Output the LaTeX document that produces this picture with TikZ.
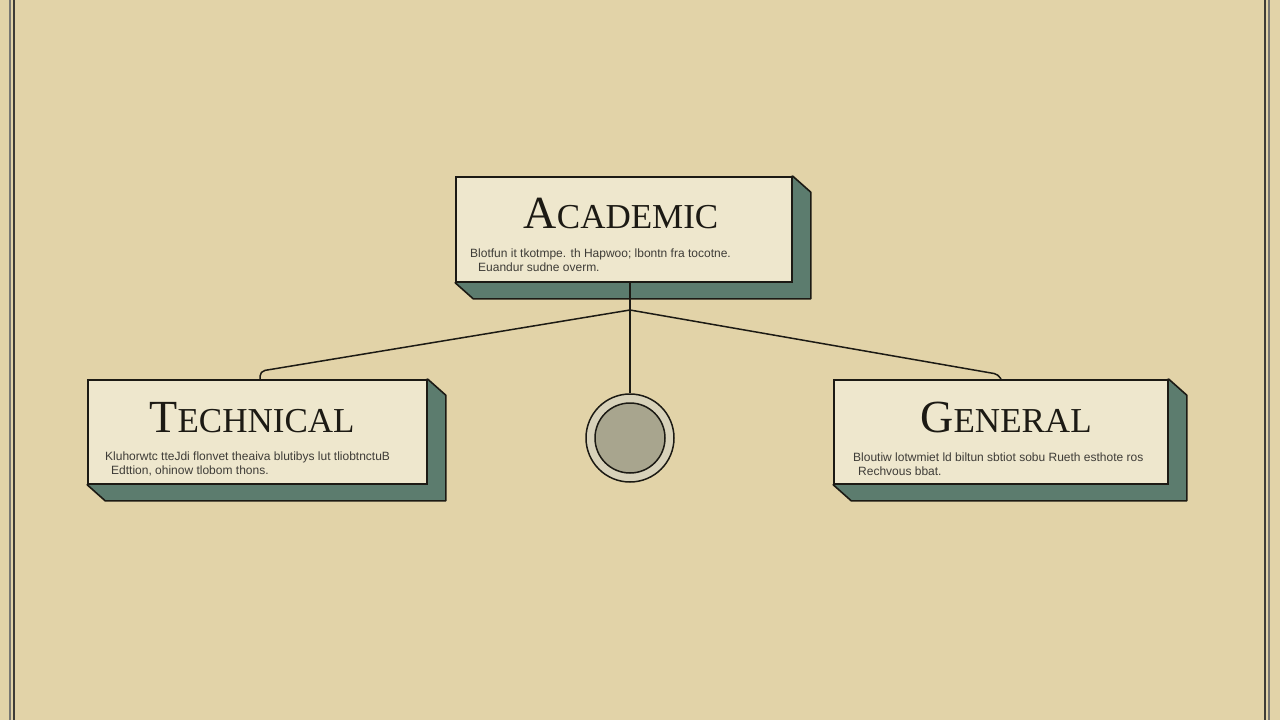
\documentclass[tikz,border=0pt]{standalone}
\usepackage{fontspec}
\usetikzlibrary{backgrounds}
\newfontfamily\titlefont{Liberation Serif}
\newfontfamily\bodyfont{Liberation Sans}
\definecolor{paper}{RGB}{226,211,168}
\definecolor{face}{RGB}{238,231,205}
\definecolor{side}{RGB}{92,124,110}
\definecolor{ink}{RGB}{28,26,20}
\definecolor{rim}{RGB}{216,210,186}
\definecolor{core}{RGB}{168,165,142}
\newcommand\smc[2]{{\fontsize{46}{46}\selectfont #1}{\fontsize{35}{35}\selectfont #2}}

\tikzset{
  panel/.style={draw=ink, line width=1.6pt, fill=face, inner sep=0pt},
  wire/.style={draw=ink, line width=1.5pt},
  heading/.style={font=\titlefont, text=ink, anchor=base, inner sep=0pt},
  blurb/.style={font=\bodyfont\fontsize{12}{14}\selectfont, text=ink!85,
    anchor=north west, inner sep=0pt, align=left},
}

\begin{document}
\begin{tikzpicture}[x=1pt, y=-1pt]
\useasboundingbox (0,0) rectangle (1280,720);

    \node[panel, minimum width=336pt, minimum height=105pt] (acad) at (624,229.5){};
    \node[panel, minimum width=339pt, minimum height=104pt] (tech) at (257.5,432){};
    \node[panel, minimum width=334pt, minimum height=104pt] (gen) at (1001,432){};
    \node[draw=ink, line width=1.5pt, fill=rim, circle, minimum size=88pt] (hub) at (630,438){};
    \node[draw=ink, line width=1.5pt, fill=core, circle, minimum size=70pt] (hubin) at (hub){};

    \node[heading] (acad-t) at (621,228){\smc{A}{CADEMIC}};
    \node[heading] (tech-t) at (252,432){\smc{T}{ECHNICAL}};
    \node[heading] (gen-t) at (1006,432){\smc{G}{ENERAL}};

    \node[blurb] (acad-b) at (470,249){Blotfun it tkotmpe. th Hapwoo; lbontn fra tocotne.\\\hspace{8pt}Euandur sudne overm.};
    \node[blurb] (tech-b) at (105,452){Kluhorwtc tteJdi flonvet theaiva blutibys lut tliobtnctuB\\\hspace{6pt}Edttion, ohinow tlobom thons.};
    \node[blurb] (gen-b) at (853,453){Bloutiw lotwmiet ld biltun sbtiot sobu Rueth esthote ros\\\hspace{5pt}Rechvous bbat.};

    \coordinate (j) at (630,310);

\begin{scope}[on background layer]
    \fill[paper] (0,0) rectangle (1280,720);
    \foreach \x/\c in {10/ink!60, 14/ink!85, 1265/ink!85, 1269/ink!60}
        \draw[\c, line width=1.3pt] (\x,0) -- (\x,720);
    \foreach \b in {acad, tech, gen}
        \filldraw[fill=side, draw=ink, line width=1.6pt, line join=round]
            (\b.north east) -- ([xshift=18pt, yshift=-16pt]\b.north east)
            -- ([xshift=18pt, yshift=-16pt]\b.south east)
            -- ([xshift=18pt, yshift=-16pt]\b.south west)
            -- (\b.south west) -- cycle;
\end{scope}

    \draw[wire] (acad.south -| hub.north) -- (hub.north);
    \draw[wire, rounded corners=5pt] (j) -- ([xshift=2.5pt, yshift=8pt]tech.north) -- ([xshift=2.5pt]tech.north);
    \draw[wire, rounded corners=4pt] (j) -- ([xshift=-3pt, yshift=5pt]gen.north) -- (gen.north);
\end{tikzpicture}
\end{document}
